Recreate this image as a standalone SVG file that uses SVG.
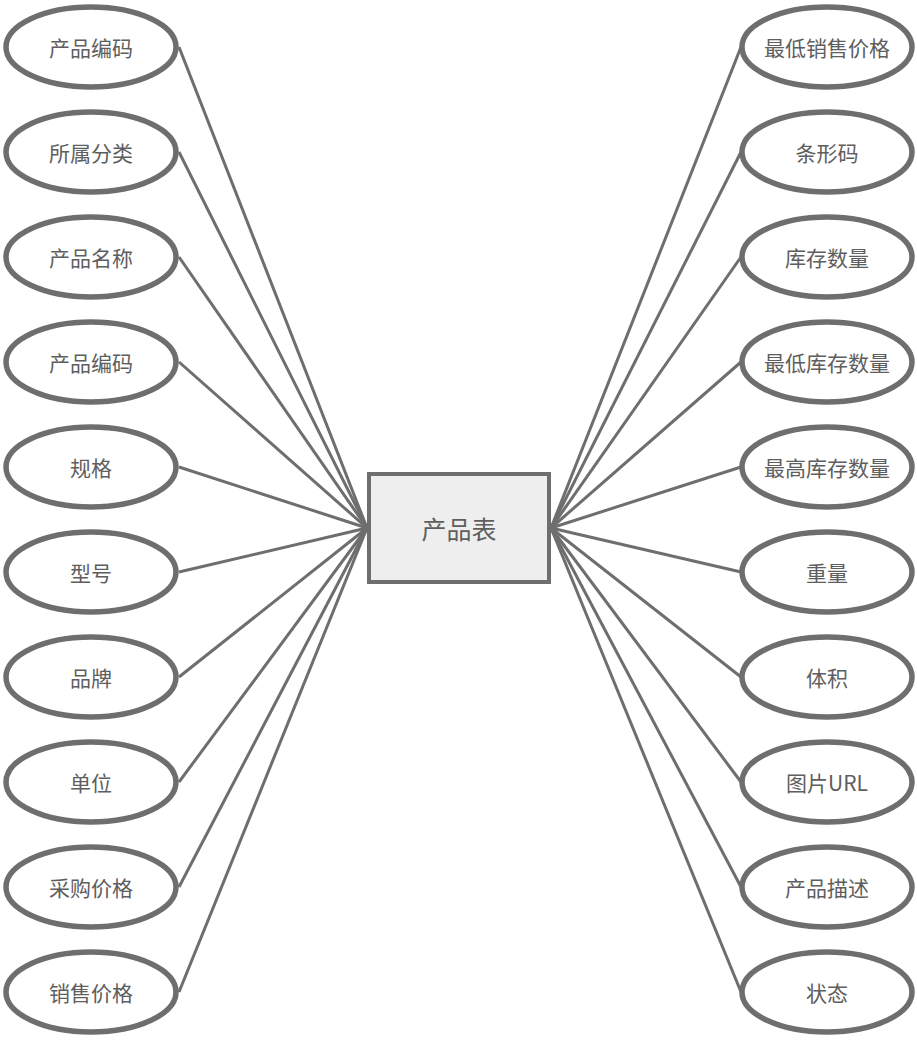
<svg xmlns="http://www.w3.org/2000/svg" width="917" height="1056" viewBox="0 0 917 1056">
<style>
.attr ellipse{fill:#ffffff;stroke:#6e6e6e;stroke-width:5.5}
.attr text,.ent text{font-family:"Noto Sans CJK SC","Liberation Sans",sans-serif;fill:#5e5e5e;text-anchor:middle;dominant-baseline:central}
.attr text{font-size:21px}
.ent text{font-size:25px}
.ent rect{fill:#eeeeee;stroke:#6e6e6e;stroke-width:4}
#connectors line{stroke:#6e6e6e;stroke-width:3}
</style>
<rect width="917" height="1056" fill="#ffffff"/>
<g id="connectors">
<line x1="179" y1="47" x2="367" y2="528"/>
<line x1="179" y1="152" x2="367" y2="528"/>
<line x1="179" y1="257" x2="367" y2="528"/>
<line x1="179" y1="362" x2="367" y2="528"/>
<line x1="179" y1="467" x2="367" y2="528"/>
<line x1="179" y1="572" x2="367" y2="528"/>
<line x1="179" y1="677" x2="367" y2="528"/>
<line x1="179" y1="782" x2="367" y2="528"/>
<line x1="179" y1="887" x2="367" y2="528"/>
<line x1="179" y1="992" x2="367" y2="528"/>
<line x1="741" y1="47" x2="551" y2="528"/>
<line x1="741" y1="152" x2="551" y2="528"/>
<line x1="741" y1="257" x2="551" y2="528"/>
<line x1="741" y1="362" x2="551" y2="528"/>
<line x1="741" y1="467" x2="551" y2="528"/>
<line x1="741" y1="572" x2="551" y2="528"/>
<line x1="741" y1="677" x2="551" y2="528"/>
<line x1="741" y1="782" x2="551" y2="528"/>
<line x1="741" y1="887" x2="551" y2="528"/>
<line x1="741" y1="992" x2="551" y2="528"/>
</g>
<g id="product" class="ent"><rect x="369" y="474" width="180" height="108"/><text x="459" y="528">产品表</text></g>
<g id="l1" class="attr"><ellipse cx="91" cy="47" rx="85" ry="40"/><text x="91" y="47">产品编码</text></g>
<g id="l2" class="attr"><ellipse cx="91" cy="152" rx="85" ry="40"/><text x="91" y="152">所属分类</text></g>
<g id="l3" class="attr"><ellipse cx="91" cy="257" rx="85" ry="40"/><text x="91" y="257">产品名称</text></g>
<g id="l4" class="attr"><ellipse cx="91" cy="362" rx="85" ry="40"/><text x="91" y="362">产品编码</text></g>
<g id="l5" class="attr"><ellipse cx="91" cy="467" rx="85" ry="40"/><text x="91" y="467">规格</text></g>
<g id="l6" class="attr"><ellipse cx="91" cy="572" rx="85" ry="40"/><text x="91" y="572">型号</text></g>
<g id="l7" class="attr"><ellipse cx="91" cy="677" rx="85" ry="40"/><text x="91" y="677">品牌</text></g>
<g id="l8" class="attr"><ellipse cx="91" cy="782" rx="85" ry="40"/><text x="91" y="782">单位</text></g>
<g id="l9" class="attr"><ellipse cx="91" cy="887" rx="85" ry="40"/><text x="91" y="887">采购价格</text></g>
<g id="l10" class="attr"><ellipse cx="91" cy="992" rx="85" ry="40"/><text x="91" y="992">销售价格</text></g>
<g id="r1" class="attr"><ellipse cx="827" cy="47" rx="85" ry="40"/><text x="827" y="47">最低销售价格</text></g>
<g id="r2" class="attr"><ellipse cx="827" cy="152" rx="85" ry="40"/><text x="827" y="152">条形码</text></g>
<g id="r3" class="attr"><ellipse cx="827" cy="257" rx="85" ry="40"/><text x="827" y="257">库存数量</text></g>
<g id="r4" class="attr"><ellipse cx="827" cy="362" rx="85" ry="40"/><text x="827" y="362">最低库存数量</text></g>
<g id="r5" class="attr"><ellipse cx="827" cy="467" rx="85" ry="40"/><text x="827" y="467">最高库存数量</text></g>
<g id="r6" class="attr"><ellipse cx="827" cy="572" rx="85" ry="40"/><text x="827" y="572">重量</text></g>
<g id="r7" class="attr"><ellipse cx="827" cy="677" rx="85" ry="40"/><text x="827" y="677">体积</text></g>
<g id="r8" class="attr"><ellipse cx="827" cy="782" rx="85" ry="40"/><text x="827" y="782">图片URL</text></g>
<g id="r9" class="attr"><ellipse cx="827" cy="887" rx="85" ry="40"/><text x="827" y="887">产品描述</text></g>
<g id="r10" class="attr"><ellipse cx="827" cy="992" rx="85" ry="40"/><text x="827" y="992">状态</text></g>
</svg>
